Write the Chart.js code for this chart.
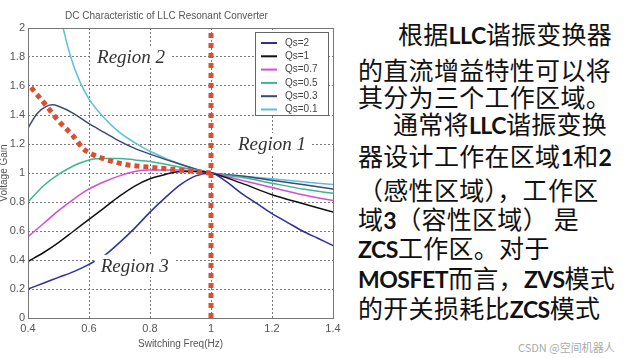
<!DOCTYPE html>
<html><head><meta charset="utf-8">
<script src="https://cdn.jsdelivr.net/npm/chart.js@4"></script>
<style>
html,body{margin:0;padding:0;background:#fff;width:626px;height:358px;overflow:hidden}
#wrap{position:absolute;left:0;top:0;width:350px;height:358px}
.t{position:absolute;font-family:"Noto Sans CJK SC",sans-serif;font-size:25px;line-height:30px;color:#111;white-space:nowrap;letter-spacing:0.3px}
.t b{font-family:"Lato","Open Sans",sans-serif;font-weight:700;font-size:23px;letter-spacing:-0.5px}
.wm{position:absolute;left:518px;top:339px;font-family:"Noto Sans CJK SC",sans-serif;font-size:11px;color:#aaa;white-space:nowrap}
</style></head><body>
<div id="wrap"><canvas id="c" width="350" height="358"></canvas></div>
<div class="t" style="left:398px;top:18px">根据<b>LLC</b>谐振变换器</div>
<div class="t" style="left:358px;top:54px">的直流增益特性可以将</div>
<div class="t" style="left:358px;top:81px">其分为三个工作区域。</div>
<div class="t" style="left:393px;top:108px">通常将<b>LLC</b>谐振变换</div>
<div class="t" style="left:358px;top:140px">器设计工作在区域<b>1</b>和<b>2</b></div>
<div class="t" style="left:358px;top:174px">（感性区域），工作区</div>
<div class="t" style="left:358px;top:203px">域<b>3</b>（容性区域） 是</div>
<div class="t" style="left:358px;top:232px"><b>ZCS</b>工作区。对于</div>
<div class="t" style="left:358px;top:262px"><b>MOSFET</b>而言，<b>ZVS</b>模式</div>
<div class="t" style="left:358px;top:292px">的开关损耗比<b>ZCS</b>模式</div>
<div class="wm">CSDN @空间机器人</div>
<script>
const freqA = [0.4,0.45,0.5,0.55,0.6,0.65,0.7,0.75,0.8,0.85,0.9,0.95,1.0,1.05,1.1,1.15,1.2,1.25,1.3,1.35,1.4];
const gainQs2 = [0.20,0.24,0.28,0.32,0.37,0.43,0.52,0.62,0.73,0.83,0.92,0.98,1.0,0.94,0.86,0.79,0.72,0.66,0.60,0.55,0.50];
const freqB = [0.4,0.45,0.5,0.55,0.6,0.65,0.7,0.75,0.8,0.85,0.9,0.95,1.0,1.1,1.2,1.3,1.4];
const gainQs1 = [0.39,0.45,0.52,0.60,0.68,0.76,0.84,0.91,0.96,0.99,1.01,1.01,1.0,0.93,0.85,0.79,0.73];
const gainQs07 = [0.56,0.65,0.74,0.82,0.89,0.94,0.98,1.01,1.02,1.02,1.02,1.01,1.0,0.95,0.90,0.85,0.81];
const gainQs05 = [0.80,0.91,0.99,1.05,1.09,1.10,1.10,1.09,1.08,1.06,1.04,1.02,1.0,0.97,0.93,0.89,0.86];
const freqC = [0.4,0.43,0.46,0.48,0.5,0.55,0.6,0.65,0.7,0.75,0.8,0.9,1.0,1.1,1.2,1.3,1.4];
const gainQs03 = [1.31,1.41,1.46,1.47,1.46,1.41,1.34,1.28,1.22,1.17,1.13,1.06,1.0,0.98,0.95,0.92,0.89];
const freqD = [0.51,0.54,0.57,0.6,0.65,0.7,0.75,0.8,0.9,1.0,1.1,1.2,1.3,1.4];
const gainQs01 = [2.04,1.80,1.63,1.51,1.38,1.28,1.21,1.15,1.06,1.0,0.98,0.96,0.94,0.92];
const boundFreq = [0.41,0.45,0.5,0.55,0.58,0.61,0.66,0.73,0.8,0.9,1.0];
const boundGain = [1.59,1.49,1.36,1.25,1.17,1.13,1.09,1.055,1.04,1.02,1.0];
const resFreq = [1,1];
const resGain = [0,2];
const seriesLabels = ['Qs=2','Qs=1','Qs=0.7','Qs=0.5','Qs=0.3','Qs=0.1'];
const xTicks = [0.4,0.6,0.8,1,1.2,1.4];
const yTicks = [0,0.2,0.4,0.6,0.8,1,1.2,1.4,1.6,1.8,2];
const regionLabels = [
  {text:'Region 2', f:0.738, g:1.8},
  {text:'Region 1', f:1.2, g:1.2},
  {text:'Region 3', f:0.75, g:0.36}
];

const pts = (xs, ys) => xs.map((x,i)=>({x:x, y:ys[i]}));
const curve = (label, xs, ys, color) => ({
  label, data: pts(xs, ys), borderColor: color, backgroundColor: color,
  borderWidth: 1.5, pointRadius: 0, cubicInterpolationMode: 'monotone', fill: false
});
const red = '#dc4e32';

const datasets = [
  {label:'', data: pts(resFreq, resGain), borderColor: red, borderWidth: 5, borderDash:[5,5], pointRadius:0, borderCapStyle:'butt'},
  {label:'', data: pts(boundFreq, boundGain), borderColor: red, borderWidth: 5, borderDash:[5,4], pointRadius:0, cubicInterpolationMode:'monotone', borderCapStyle:'butt'},
  curve(seriesLabels[0], freqA, gainQs2, '#2e2e9c'),
  curve(seriesLabels[1], freqB, gainQs1, '#111111'),
  curve(seriesLabels[2], freqB, gainQs07, '#d050d0'),
  curve(seriesLabels[3], freqB, gainQs05, '#3fb58e'),
  curve(seriesLabels[4], freqC, gainQs03, '#3b4a78'),
  curve(seriesLabels[5], freqD, gainQs01, '#5cc0d8')
];

const overlay = {
  id: 'overlay',
  afterDatasetsDraw(chart) {
    const ctx = chart.ctx, a = chart.chartArea;
    const xs = chart.scales.x, ys = chart.scales.y;
    ctx.save();
    ctx.font = 'italic 19px "Liberation Serif", serif';
    ctx.textBaseline = 'middle';
    ctx.textAlign = 'center';
    regionLabels.forEach(r => {
      const px = xs.getPixelForValue(r.f), py = ys.getPixelForValue(r.g);
      const w = ctx.measureText(r.text).width + 12;
      ctx.fillStyle = '#fff';
      ctx.fillRect(px - w/2, py - 11, w, 22);
      ctx.fillStyle = '#333';
      ctx.fillText(r.text, px, py + 1);
    });
    ctx.strokeStyle = '#777';
    ctx.lineWidth = 1;
    ctx.strokeRect(Math.round(a.left)+0.5, Math.round(a.top)+0.5, Math.round(a.right-a.left), Math.round(a.bottom-a.top));
    const lx = a.right - 78, ly = a.top + 4, lw = 73, lh = 83;
    ctx.fillStyle = '#fff';
    ctx.fillRect(lx, ly, lw, lh);
    ctx.strokeStyle = '#666';
    ctx.strokeRect(Math.round(lx)+0.5, Math.round(ly)+0.5, lw, lh);
    ctx.font = '10px "Liberation Sans", Arial, sans-serif';
    ctx.textAlign = 'left';
    let row = 0;
    chart.data.datasets.forEach(ds => {
      if (!ds.label) return;
      const yy = ly + 11 + row * 13.3;
      ctx.strokeStyle = ds.borderColor;
      ctx.lineWidth = 2;
      ctx.beginPath(); ctx.moveTo(lx + 6, yy); ctx.lineTo(lx + 22, yy); ctx.stroke();
      ctx.fillStyle = '#444';
      ctx.fillText(ds.label, lx + 30, yy);
      row++;
    });
    ctx.restore();
  }
};

new Chart(document.getElementById('c'), {
  type: 'line',
  data: { datasets },
  plugins: [overlay],
  options: {
    responsive: false,
    animation: false,
    layout: { padding: { right: 17, left: 0, top: 0, bottom: 0 } },
    plugins: {
      legend: { display: false },
      tooltip: { enabled: false },
      title: {
        display: true,
        text: 'DC Characteristic of LLC Resonant Converter',
        color: '#555',
        font: { family: '"Liberation Sans", Arial, sans-serif', size: 10, weight: 'normal' },
        padding: { top: 10, bottom: 6 }
      }
    },
    scales: {
      x: {
        type: 'linear', min: 0.4, max: 1.4,
        afterBuildTicks: s => { s.ticks = xTicks.map(v => ({ value: v })); },
        afterFit: s => { s.height = 40; },
        ticks: { color: '#555', padding: 4, font: { family: '"Liberation Sans", Arial, sans-serif', size: 11 }, callback: v => String(+v.toFixed(1)) },
        grid: { color: '#7a7a7a', drawTicks: false, lineWidth: 1 },
        border: { display: false, dash: [2, 2] },
        title: { display: true, text: 'Switching Freq(Hz)', color: '#555', font: { family: '"Liberation Sans", Arial, sans-serif', size: 10 }, padding: { top: 0, bottom: 8 } }
      },
      y: {
        type: 'linear', min: 0, max: 2,
        afterBuildTicks: s => { s.ticks = yTicks.map(v => ({ value: v })); },
        afterFit: s => { s.width = 28; },
        ticks: { color: '#555', padding: 3, font: { family: '"Liberation Sans", Arial, sans-serif', size: 11 }, callback: v => String(+v.toFixed(1)) },
        grid: { color: '#7a7a7a', drawTicks: false, lineWidth: 1 },
        border: { display: false, dash: [2, 2] },
        title: { display: true, text: 'Voltage Gain', color: '#555', font: { family: '"Liberation Sans", Arial, sans-serif', size: 10 }, padding: { top: -2, bottom: 0 } }
      }
    }
  }
});
</script>
</body></html>
